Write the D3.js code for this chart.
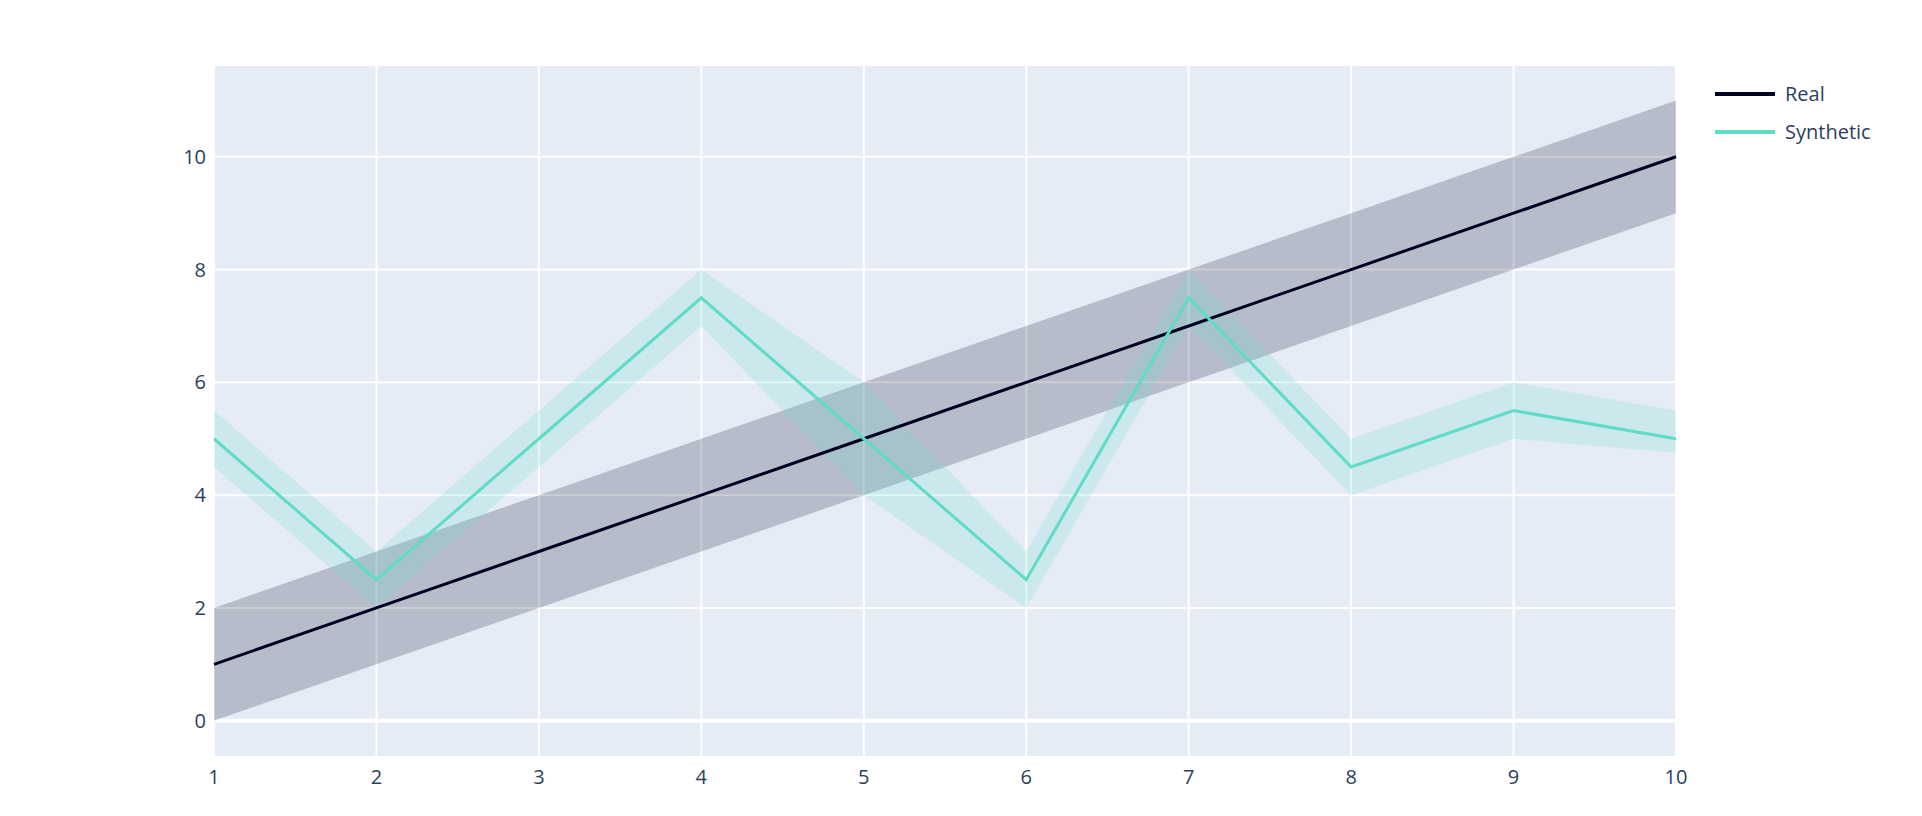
<!DOCTYPE html><html><head><script src="https://cdn.jsdelivr.net/npm/d3@7"></script>
<style>body{margin:0;background:#fff}text{font-family:"Open Sans",sans-serif;fill:#2a3f5f}</style></head><body>
<svg id="c" width="1922" height="816"></svg>
<script>
const xs=[1,2,3,4,5,6,7,8,9,10];
const realVals=[1,2,3,4,5,6,7,8,9,10];
const realLo=[0,1,2,3,4,5,6,7,8,9];
const realHi=[2,3,4,5,6,7,8,9,10,11];
const synVals=[5,2.5,5,7.5,5,2.5,7.5,4.5,5.5,5];
const synLo=[4.5,2,4.5,7,4,2,7,4,5,4.75];
const synHi=[5.5,3,5.5,8,6,3,8,5,6,5.5];
const xTicks=[1,2,3,4,5,6,7,8,9,10];
const yTicks=[0,2,4,6,8,10];
const svg=d3.select("#c");
const L=214,R=1676,T=66,B=756;
const x=d3.scaleLinear().domain([1,10]).range([L,R]);
const y=d3.scaleLinear().domain([-0.626,11.61]).range([B,T]);
svg.append("rect").attr("x",L).attr("y",T).attr("width",R-L).attr("height",B-T).attr("fill","#e5ecf6");
const g=svg.append("g");
g.selectAll(".vx").data(xTicks).join("line").attr("x1",d=>x(d)).attr("x2",d=>x(d)).attr("y1",T).attr("y2",B).attr("stroke","#fff").attr("stroke-width",2);
g.selectAll(".hy").data(yTicks).join("line").attr("y1",d=>y(d)).attr("y2",d=>y(d)).attr("x1",L).attr("x2",R).attr("stroke","#fff").attr("stroke-width",d=>d===0?4:2);
const area=(lo,hi)=>d3.area().x((d,i)=>x(xs[i])).y0((d,i)=>y(lo[i])).y1((d,i)=>y(hi[i]))(xs);
const line=v=>d3.line().x((d,i)=>x(xs[i])).y((d,i)=>y(v[i]))(xs);
svg.append("path").attr("d",area(realLo,realHi)).attr("fill","rgba(0,0,34,0.2)");
svg.append("path").attr("d",area(synLo,synHi)).attr("fill","rgba(99,218,202,0.2)");
svg.append("path").attr("d",line(realVals)).attr("fill","none").attr("stroke","#000022").attr("stroke-width",3);
svg.append("path").attr("d",line(synVals)).attr("fill","none").attr("stroke","#5fdcc6").attr("stroke-width",3);
svg.selectAll(".xt").data(xTicks).join("text").attr("x",d=>x(d)).attr("y",B+28).attr("text-anchor","middle").attr("font-size",20).text(d=>d);
svg.selectAll(".yt").data(yTicks).join("text").attr("x",L-8).attr("y",d=>y(d)+7).attr("text-anchor","end").attr("font-size",20).text(d=>d);
const leg=[["Real","#000022"],["Synthetic","#5fdcc6"]];
leg.forEach((l,i)=>{const yy=94+i*38;
svg.append("line").attr("x1",1715).attr("x2",1775).attr("y1",yy).attr("y2",yy).attr("stroke",l[1]).attr("stroke-width",4);
svg.append("text").attr("x",1785).attr("y",yy+7).attr("font-size",20).text(l[0]);});
</script></body></html>
